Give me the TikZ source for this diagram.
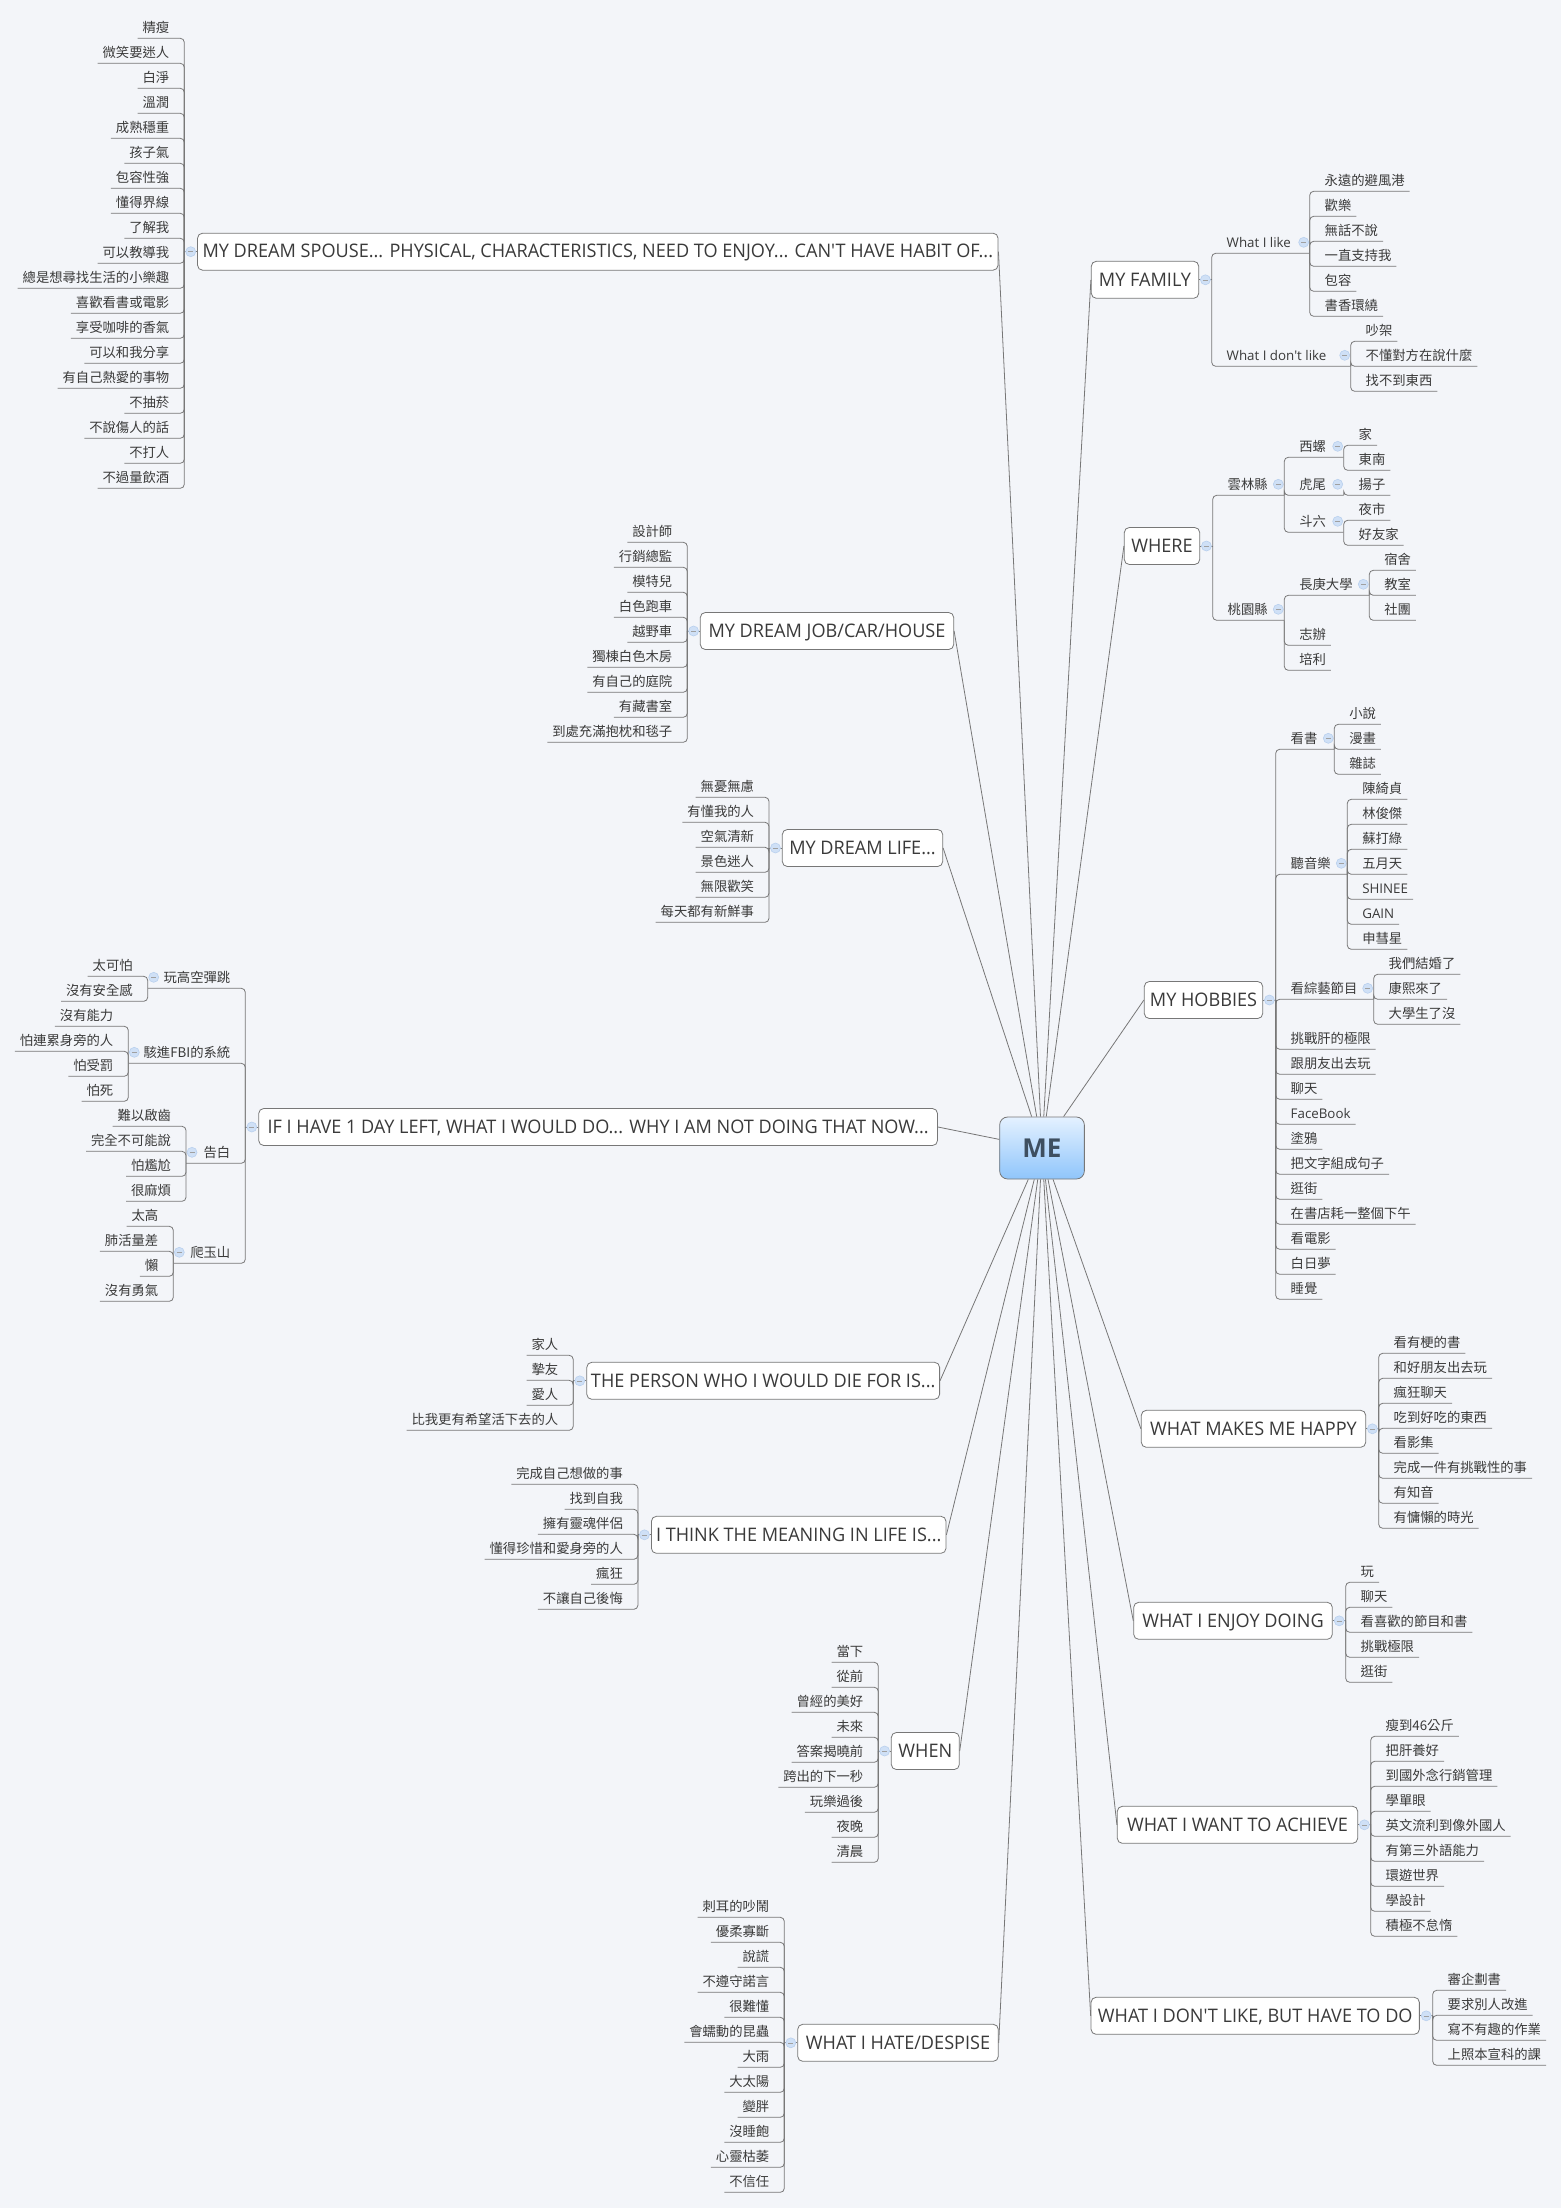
\documentclass[tikz,border=0pt]{standalone}
\usepackage{fontspec}
\usepackage{tikz}
\usetikzlibrary{calc}
\setmainfont{Noto Sans CJK TC}
\newfontfamily\latinfont{Open Sans}
\newfontfamily\topicfont[FakeStretch=0.97]{Open Sans}
\definecolor{paper}{HTML}{F3F5F9}
\definecolor{wire}{HTML}{777777}
\definecolor{ink}{HTML}{3A3A3A}
\definecolor{foldfill}{HTML}{CFE0F6}
\definecolor{foldline}{HTML}{B9D0EE}
\definecolor{metop}{HTML}{E4F1FF}
\definecolor{mebottom}{HTML}{8FC5FB}
\definecolor{meink}{HTML}{3E4F60}
\tikzset{
  link/.style={draw=wire, line width=0.8pt, rounded corners=4pt},
  spoke/.style={draw=wire, line width=0.8pt},
  central/.style={draw=wire, line width=0.8pt, rounded corners=8pt, minimum width=84.7pt, minimum height=62pt,
    top color=metop, bottom color=mebottom, text=meink,
    font=\latinfont\fontsize{26}{30}\selectfont\bfseries},
  topic/.style={draw=wire, line width=0.8pt, fill=white, rounded corners=5pt, minimum height=37pt, inner sep=0pt,
    text height=14pt, text depth=1.5pt, text=ink, font=\topicfont\fontsize{18.67}{22}\selectfont},
  leaf/.style={inner xsep=5pt, inner ysep=3.5pt, outer sep=0pt, text height=12pt, text depth=2pt,
    text=ink, font=\fontsize{13.33}{16}\selectfont},
  leafleft/.style={leaf, anchor=south east},
  leafright/.style={leaf, anchor=south west},
  fold/.style={circle, draw=foldline, fill=foldfill, minimum size=10pt, inner sep=0pt, line width=0.6pt,
    path picture={\draw[wire!70, line width=0.5pt] ([xshift=-2.5pt]path picture bounding box.center) -- ([xshift=2.5pt]path picture bounding box.center);}}
}
% fork between a topic box and its spine
\newcommand{\forkleft}[2]{%
  \coordinate (#1hub) at (#2,0 |- #1.west);
  \draw[link] (#1.west) -- (#1hub);
  \node[fold] (#1fold) at ($(#1.west)!.5!(#1hub)$) {};
}
\newcommand{\forkright}[2]{%
  \coordinate (#1hub) at (#2,0 |- #1.east);
  \draw[link] (#1.east) -- (#1hub);
  \node[fold] (#1fold) at ($(#1.east)!.5!(#1hub)$) {};
}
% column of underlined leaves on a spine
\newcommand{\leavesleft}[4]{%
  \foreach \txt [count=\i from 0] in {#4} {
    \node[leafleft] (#1\i) at (#2-10,#3+25*\i) {\txt};
    \draw[link] (#1hub) |- (#1\i.south west);
  }
}
\newcommand{\leavesright}[4]{%
  \foreach \txt [count=\i from 0] in {#4} {
    \node[leafright] (#1\i) at (#2+10,#3+25*\i) {\txt};
    \draw[link] (#1hub) |- (#1\i.south east);
  }
}
% sub branch: name, text, parent, parent spine, y, own spine
\newcommand{\subleft}[6]{%
  \node[leafleft] (#1) at (#4-10,#5) {#2};
  \coordinate (#1hub) at (#6,#5);
  \draw[link] (#3hub) |- (#1hub);
  \node[fold] (#1fold) at (#6+6,#5-11) {};
}
\newcommand{\subright}[6]{%
  \node[leafright] (#1) at (#4+10,#5) {#2};
  \coordinate (#1hub) at (#6,#5);
  \draw[link] (#3hub) |- (#1hub);
  \node[fold] (#1fold) at (#6-6,#5-11) {};
}
\begin{document}
\begin{tikzpicture}[x=1pt, y=-1pt]
  \useasboundingbox[fill=paper] (0,0) rectangle (1561,2208);
  % Define nodes
  \node[central] (me) at (1042,1148) {ME};
  \node[topic, minimum width=800.5] (spouse) at (597.8,251.7) {MY DREAM SPOUSE... PHYSICAL, CHARACTERISTICS, NEED TO ENJOY... CAN'T HAVE HABIT OF...};
  \node[topic, minimum width=253.4] (job) at (827,631) {MY DREAM JOB/CAR/HOUSE};
  \node[topic, minimum width=160.4] (life) at (862.5,848) {MY DREAM LIFE...};
  \node[topic, minimum width=678.8] (lastday) at (598.1,1127) {IF I HAVE 1 DAY LEFT, WHAT I WOULD DO... WHY I AM NOT DOING THAT NOW...};
  \node[topic, minimum width=352.8] (person) at (763.2,1380.8) {THE PERSON WHO I WOULD DIE FOR IS...};
  \node[topic, minimum width=294.6] (meaning) at (798.7,1534.8) {I THINK THE MEANING IN LIFE IS...};
  \node[topic, minimum width=68] (when) at (925.3,1751) {WHEN};
  \node[topic, minimum width=200.6] (hate) at (898,2042.8) {WHAT I HATE/DESPISE};
  \node[topic, minimum width=107.4] (family) at (1145,279.8) {MY FAMILY};
  \node[topic, minimum width=75.4] (where) at (1162,546) {WHERE};
  \node[topic, minimum width=118.4] (hobbies) at (1203.5,1000) {MY HOBBIES};
  \node[topic, minimum width=224.4] (happy) at (1253.5,1428.8) {WHAT MAKES ME HAPPY};
  \node[topic, minimum width=198.6] (enjoy) at (1233,1620.8) {WHAT I ENJOY DOING};
  \node[topic, minimum width=240.4] (achieve) at (1237.5,1824.8) {WHAT I WANT TO ACHIEVE};
  \node[topic, minimum width=328.3] (dislike) at (1255.2,2015.8) {WHAT I DON'T LIKE, BUT HAVE TO DO};
  % Connect nodes
  \foreach \nm in {spouse,job,life,lastday,person,meaning,when,hate}
    \draw[spoke] (me) -- (\nm.east);
  \foreach \nm in {family,where,hobbies,happy,enjoy,achieve,dislike}
    \draw[spoke] (me) -- (\nm.west);
  % left side
  \forkleft{spouse}{184.3}
  \leavesleft{spouse}{184.3}{38.3}{精瘦,微笑要迷人,白淨,溫潤,成熟穩重,孩子氣,包容性強,懂得界線,了解我,可以教導我,總是想尋找生活的小樂趣,喜歡看書或電影,享受咖啡的香氣,可以和我分享,有自己熱愛的事物,不抽菸,不說傷人的話,不打人,不過量飲酒}
  \forkleft{job}{687.3}
  \leavesleft{job}{687.3}{542.3}{設計師,行銷總監,模特兒,白色跑車,越野車,獨棟白色木房,有自己的庭院,有藏書室,到處充滿抱枕和毯子}
  \forkleft{life}{769}
  \leavesleft{life}{769}{797.3}{無憂無慮,有懂我的人,空氣清新,景色迷人,無限歡笑,每天都有新鮮事}
  \forkleft{lastday}{245.3}
  \subleft{bungee}{玩高空彈跳}{lastday}{245.3}{988.3}{147.7}
  \leavesleft{bungee}{147.7}{976.3}{太可怕,沒有安全感}
  \subleft{hack}{駭進FBI的系統}{lastday}{245.3}{1063.3}{128.3}
  \leavesleft{hack}{128.3}{1026.3}{沒有能力,怕連累身旁的人,怕受罰,怕死}
  \subleft{confess}{告白}{lastday}{245.3}{1163.3}{186}
  \leavesleft{confess}{186}{1126.3}{難以啟齒,完全不可能說,怕尷尬,很麻煩}
  \subleft{climb}{爬玉山}{lastday}{245.3}{1263.3}{173.3}
  \leavesleft{climb}{173.3}{1226.3}{太高,肺活量差,懶,沒有勇氣}
  \forkleft{person}{573.2}
  \leavesleft{person}{573.2}{1355.3}{家人,摯友,愛人,比我更有希望活下去的人}
  \forkleft{meaning}{637.9}
  \leavesleft{meaning}{637.9}{1484.3}{完成自己想做的事,找到自我,擁有靈魂伴侶,懂得珍惜和愛身旁的人,瘋狂,不讓自己後悔}
  \forkleft{when}{878.3}
  \leavesleft{when}{878.3}{1662.3}{當下,從前,曾經的美好,未來,答案揭曉前,跨出的下一秒,玩樂過後,夜晚,清晨}
  \forkleft{hate}{784.3}
  \leavesleft{hate}{784.3}{1917.3}{刺耳的吵鬧,優柔寡斷,說謊,不遵守諾言,很難懂,會蠕動的昆蟲,大雨,大太陽,變胖,沒睡飽,心靈枯萎,不信任}
  % right side
  \forkright{family}{1211.7}
  \subright{like}{{\latinfont What I like}}{family}{1211.7}{253.3}{1309.7}
  \leavesright{like}{1309.7}{191.3}{永遠的避風港,歡樂,無話不說,一直支持我,包容,書香環繞}
  \subright{nolike}{{\latinfont What I don't like}}{family}{1211.7}{366.3}{1350.7}
  \leavesright{nolike}{1350.7}{341.3}{吵架,不懂對方在說什麼,找不到東西}
  \forkright{where}{1212.7}
  \subright{yunlin}{雲林縣}{where}{1212.7}{495.3}{1284.3}
  \subright{xiluo}{西螺}{yunlin}{1284.3}{457.3}{1343.7}
  \leavesright{xiluo}{1343.7}{445.3}{家,東南}
  \subright{huwei}{虎尾}{yunlin}{1284.3}{495.3}{1343.7}
  \leavesright{huwei}{1343.7}{495.3}{揚子}
  \subright{douliu}{斗六}{yunlin}{1284.3}{532.3}{1343.7}
  \leavesright{douliu}{1343.7}{520.3}{夜市,好友家}
  \subright{taoyuan}{桃園縣}{where}{1212.7}{620.3}{1284.3}
  \subright{cgu}{長庚大學}{taoyuan}{1284.3}{595.3}{1369.3}
  \leavesright{cgu}{1369.3}{570.3}{宿舍,教室,社團}
  \leavesright{taoyuan}{1284.3}{645.3}{志辦,培利}
  \forkright{hobbies}{1275.7}
  \subright{books}{看書}{hobbies}{1275.7}{749.3}{1334.3}
  \leavesright{books}{1334.3}{724.3}{小說,漫畫,雜誌}
  \subright{music}{聽音樂}{hobbies}{1275.7}{874.3}{1347.3}
  \leavesright{music}{1347.3}{799.3}{陳綺貞,林俊傑,蘇打綠,五月天,{\latinfont SHINEE},{\latinfont GAIN},申彗星}
  \subright{shows}{看綜藝節目}{hobbies}{1275.7}{999.3}{1373.7}
  \leavesright{shows}{1373.7}{974.3}{我們結婚了,康熙來了,大學生了沒}
  \leavesright{hobbies}{1275.7}{1049.3}{挑戰肝的極限,跟朋友出去玩,聊天,{\latinfont FaceBook},塗鴉,把文字組成句子,逛街,在書店耗一整個下午,看電影,白日夢,睡覺}
  \forkright{happy}{1378.7}
  \leavesright{happy}{1378.7}{1353.3}{看有梗的書,和好朋友出去玩,瘋狂聊天,吃到好吃的東西,看影集,完成一件有挑戰性的事,有知音,有慵懶的時光}
  \forkright{enjoy}{1345.7}
  \leavesright{enjoy}{1345.7}{1582.3}{玩,聊天,看喜歡的節目和書,挑戰極限,逛街}
  \forkright{achieve}{1370.7}
  \leavesright{achieve}{1370.7}{1736.3}{瘦到46公斤,把肝養好,到國外念行銷管理,學單眼,英文流利到像外國人,有第三外語能力,環遊世界,學設計,積極不怠惰}
  \forkright{dislike}{1432.7}
  \leavesright{dislike}{1432.7}{1990.3}{審企劃書,要求別人改進,寫不有趣的作業,上照本宣科的課}
\end{tikzpicture}
\end{document}
